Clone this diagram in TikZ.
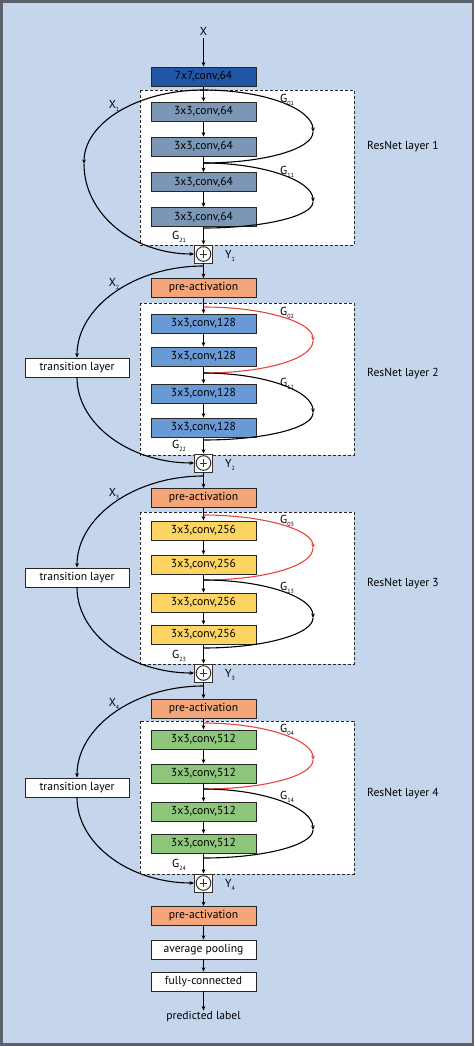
\documentclass[tikz,border=0pt]{standalone}
\usepackage{fontspec}
\setmainfont{PT Sans}
\usetikzlibrary{arrows.meta}
\definecolor{bgblue}{HTML}{C4D5EC}
\definecolor{framegray}{HTML}{5A616D}
\definecolor{csev}{HTML}{2156A6}
\definecolor{csix}{HTML}{7C97B6}
\definecolor{conetwo}{HTML}{6A9AD6}
\definecolor{ctwo}{HTML}{FCD461}
\definecolor{cfive}{HTML}{8DC67B}
\definecolor{cpre}{HTML}{F4A67A}
\definecolor{gred}{HTML}{E8453C}
\newcommand\sbs[1]{\raisebox{-2.5pt}{\fontsize{6}{6}\selectfont #1}}
\begin{document}
\begin{tikzpicture}[x=1pt,y=-1pt,
  font=\fontsize{11.6}{13}\selectfont,
  blk/.style={draw=black!85,line width=0.9pt,minimum width=105pt,minimum height=19pt,inner sep=0pt},
  wbox/.style={blk,fill=white},
  tbox/.style={draw=black!85,line width=0.9pt,minimum width=104pt,minimum height=19pt,inner sep=0pt,fill=white},
  dashbox/.style={draw=black!85,fill=white,line width=0.9pt,dash pattern=on 3pt off 2pt},
  conn/.style={line width=1.1pt,black},
  arr/.style={conn,-{Stealth[length=4.5pt,width=3.8pt]}},
  plusnode/.style={draw=black!80,line width=0.9pt,fill=white,minimum size=18pt,inner sep=0pt,
    path picture={\draw[line width=1pt,fill=white] (path picture bounding box.center) circle (7.3pt);
      \draw[line width=1pt] ([xshift=-3.6pt]path picture bounding box.center) -- ([xshift=3.6pt]path picture bounding box.center);
      \draw[line width=1pt] ([yshift=-3.6pt]path picture bounding box.center) -- ([yshift=3.6pt]path picture bounding box.center);}},
  lbl/.style={inner sep=1pt}]
\useasboundingbox (0,0) rectangle (474,1046);
\fill[framegray] (0,0) rectangle (474,1046);
\fill[bgblue] (2.5,3) rectangle (471.5,1043);
% dashed layer boxes
\draw[dashbox] (140,90) rectangle (354,245);
\draw[dashbox] (140,303) rectangle (354,455);
\draw[dashbox] (140,512) rectangle (354,664);
\draw[dashbox] (140,721) rectangle (354,874);
% input and stem
\node[lbl] (X) at (203.5,31) {X};
\node[blk,fill=csev] (c7) at (203.5,76.5) {7x7,conv,64};
% layer 1
\node[blk,fill=csix] (L1a) at (203.5,111.5) {3x3,conv,64};
\node[blk,fill=csix] (L1b) at (203.5,146.5) {3x3,conv,64};
\node[blk,fill=csix] (L1c) at (203.5,182) {3x3,conv,64};
\node[blk,fill=csix] (L1d) at (203.5,217) {3x3,conv,64};
\node[plusnode] (Y1) at (203.5,254) {};
% layer 2
\node[blk,fill=cpre] (pa2) at (203.5,288) {pre-activation};
\node[blk,fill=conetwo] (L2a) at (203.5,323.5) {3x3,conv,128};
\node[blk,fill=conetwo] (L2b) at (203.5,356.5) {3x3,conv,128};
\node[blk,fill=conetwo] (L2c) at (203.5,393.5) {3x3,conv,128};
\node[blk,fill=conetwo] (L2d) at (203.5,427.5) {3x3,conv,128};
\node[plusnode] (Y2) at (203.5,463) {};
\node[tbox] (T2) at (77,367.5) {transition layer};
% layer 3
\node[blk,fill=cpre] (pa3) at (203.5,498) {pre-activation};
\node[blk,fill=ctwo] (L3a) at (203.5,530.5) {3x3,conv,256};
\node[blk,fill=ctwo] (L3b) at (203.5,564.5) {3x3,conv,256};
\node[blk,fill=ctwo] (L3c) at (203.5,602.5) {3x3,conv,256};
\node[blk,fill=ctwo] (L3d) at (203.5,634.5) {3x3,conv,256};
\node[plusnode] (Y3) at (203.5,673) {};
\node[tbox] (T3) at (77,577.5) {transition layer};
% layer 4
\node[blk,fill=cpre] (pa4) at (203.5,708.5) {pre-activation};
\node[blk,fill=cfive] (L4a) at (203.5,739.5) {3x3,conv,512};
\node[blk,fill=cfive] (L4b) at (203.5,773.5) {3x3,conv,512};
\node[blk,fill=cfive] (L4c) at (203.5,811.5) {3x3,conv,512};
\node[blk,fill=cfive] (L4d) at (203.5,843.5) {3x3,conv,512};
\node[plusnode] (Y4) at (203.5,883) {};
\node[tbox] (T4) at (77,787.5) {transition layer};
% head
\node[blk,fill=cpre] (pa5) at (203.5,916) {pre-activation};
\node[wbox] (avg) at (203.5,949.5) {average pooling};
\node[wbox] (fc) at (203.5,981.5) {fully-connected};
\node[lbl] (lab) at (203.5,1017) {predicted label};
% side labels
\node[lbl] at (403,147) {ResNet layer 1};
\node[lbl] at (403,374) {ResNet layer 2};
\node[lbl] at (403,584) {ResNet layer 3};
\node[lbl] at (403,794) {ResNet layer 4};
\foreach \n/\yy in {1/254,2/463,3/673,4/883} {\node[lbl] at (230,\yy+2) {Y\sbs{\n}};}
\foreach \n/\yy in {1/106,2/284,3/494,4/704} {\node[lbl] at (114,\yy) {X\sbs{\n}};}
\node[lbl] at (287,100) {G\sbs{01}};
\node[lbl] at (287,172) {G\sbs{11}};
\node[lbl] at (179,237) {G\sbs{21}};
\node[lbl] at (287,313) {G\sbs{02}};
\node[lbl] at (287,384) {G\sbs{12}};
\node[lbl] at (179,446) {G\sbs{22}};
\node[lbl] at (287,521) {G\sbs{03}};
\node[lbl] at (287,588) {G\sbs{13}};
\node[lbl] at (179,656) {G\sbs{23}};
\node[lbl] at (287,730) {G\sbs{04}};
\node[lbl] at (287,797) {G\sbs{14}};
\node[lbl] at (179,865) {G\sbs{24}};
% main line
\draw[arr] ([yshift=-2pt]X.south) -- (c7);
\draw[arr] (c7) -- (L1a);
\draw[arr] (L1a) -- (L1b);
\draw[arr] (L1b) -- (L1c);
\draw[arr] (L1c) -- (L1d);
\draw[arr] (L1d) -- (Y1);
\draw[arr] (Y1) -- (pa2);
\draw[arr] (pa2) -- (L2a);
\draw[arr] (L2a) -- (L2b);
\draw[arr] (L2b) -- (L2c);
\draw[arr] (L2c) -- (L2d);
\draw[arr] (L2d) -- (Y2);
\draw[arr] (Y2) -- (pa3);
\draw[arr] (pa3) -- (L3a);
\draw[arr] (L3a) -- (L3b);
\draw[arr] (L3b) -- (L3c);
\draw[arr] (L3c) -- (L3d);
\draw[arr] (L3d) -- (Y3);
\draw[arr] (Y3) -- (pa4);
\draw[arr] (pa4) -- (L4a);
\draw[arr] (L4a) -- (L4b);
\draw[arr] (L4b) -- (L4c);
\draw[arr] (L4c) -- (L4d);
\draw[arr] (L4d) -- (Y4);
\draw[arr] (Y4) -- (pa5);
\draw[arr] (pa5) -- (avg);
\draw[arr] (avg) -- (fc);
\draw[arr] (fc) -- (lab);
% coordinates for skip curves
\coordinate (s1) at (203.5,90);   \coordinate (m1) at (84,164);
\coordinate (r01) at (313,132);   \coordinate (e01) at (203.5,163);
\coordinate (r11) at (313,202);   \coordinate (e11) at (203.5,228);
\coordinate (s2) at (203.5,266);
\coordinate (s02) at (203.5,307); \coordinate (r02) at (313,341); \coordinate (e02) at (203.5,373);
\coordinate (r12) at (313,413);   \coordinate (e12) at (203.5,440);
\coordinate (s3) at (203.5,476);
\coordinate (s03) at (203.5,515); \coordinate (r03) at (313,548); \coordinate (e03) at (203.5,580);
\coordinate (r13) at (313,618);   \coordinate (e13) at (203.5,648);
\coordinate (s4) at (203.5,686);
\coordinate (s04) at (203.5,723); \coordinate (r04) at (313,760); \coordinate (e04) at (203.5,789);
\coordinate (r14) at (313,830);   \coordinate (e14) at (203.5,858);
% layer 1 skip
\draw[arr] (s1) .. controls +(-66,0) and +(0,-41) .. (m1);
\draw[arr] (m1) .. controls +(0,50) and +(-61,0) .. (Y1.west);
\draw[arr] (s1) .. controls +(61,0) and +(0,-23) .. (r01);
\draw[conn] (r01) .. controls +(0,17) and +(61,0) .. (e01);
\draw[arr] (e01) .. controls +(61,0) and +(0,-21) .. (r11);
\draw[conn] (r11) .. controls +(0,14) and +(61,0) .. (e11);
% layer 2
\draw[arr] (s2) .. controls +(-70,0) and +(0,-50) .. (T2.north);
\draw[arr] (T2.south) .. controls +(0,47) and +(-64,0) .. (Y2.west);
\draw[arr,gred] (s02) .. controls +(61,0) and +(0,-19) .. (r02);
\draw[conn,gred] (r02) .. controls +(0,18) and +(61,0) .. (e02);
\draw[arr] (e02) .. controls +(61,0) and +(0,-22) .. (r12);
\draw[conn] (r12) .. controls +(0,15) and +(61,0) .. (e12);
% layer 3
\draw[arr] (s3) .. controls +(-70,0) and +(0,-50) .. (T3.north);
\draw[arr] (T3.south) .. controls +(0,47) and +(-64,0) .. (Y3.west);
\draw[arr,gred] (s03) .. controls +(61,0) and +(0,-18) .. (r03);
\draw[conn,gred] (r03) .. controls +(0,18) and +(61,0) .. (e03);
\draw[arr] (e03) .. controls +(61,0) and +(0,-21) .. (r13);
\draw[conn] (r13) .. controls +(0,16) and +(61,0) .. (e13);
% layer 4
\draw[arr] (s4) .. controls +(-70,0) and +(0,-50) .. (T4.north);
\draw[arr] (T4.south) .. controls +(0,47) and +(-64,0) .. (Y4.west);
\draw[arr,gred] (s04) .. controls +(61,0) and +(0,-20) .. (r04);
\draw[conn,gred] (r04) .. controls +(0,16) and +(61,0) .. (e04);
\draw[arr] (e04) .. controls +(61,0) and +(0,-22) .. (r14);
\draw[conn] (r14) .. controls +(0,15) and +(61,0) .. (e14);
\end{tikzpicture}
\end{document}
